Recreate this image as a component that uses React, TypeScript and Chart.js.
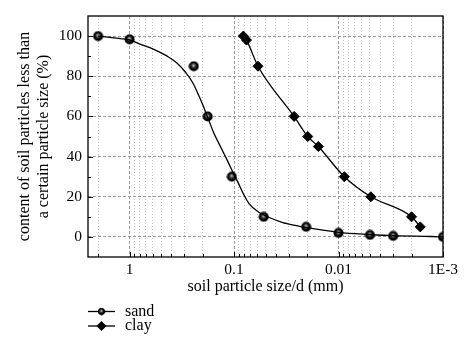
import React, { useEffect, useRef } from 'react';
import { Chart, registerables } from 'chart.js';
Chart.register(...registerables);

// ---- data ----
const sandSize = [2, 1, 0.243, 0.179, 0.105, 0.052, 0.0204, 0.01, 0.005, 0.003, 0.001];
const sandContent = [100, 98.4, 85, 60, 30, 10, 5, 2, 1, 0.5, 0];

const sandFitSize = [2, 1.22, 1, 0.785, 0.586, 0.436, 0.35, 0.292, 0.25, 0.218, 0.188, 0.157, 0.135, 0.117, 0.101, 0.09, 0.0815, 0.0716, 0.058, 0.0467, 0.0347, 0.0259, 0.0201, 0.01, 0.005, 0.003, 0.0013, 0.001];
const sandFitContent = [100, 98.7, 98.1, 95.9, 93.4, 90, 86.5, 82, 77, 70.5, 62.5, 52, 45, 38.5, 31.5, 26.3, 21.5, 16.5, 12.3, 9.8, 7.3, 5.7, 4.6, 2.3, 1.2, 0.6, 0.2, 0];

const claySize = [0.0815, 0.076, 0.059, 0.0266, 0.0197, 0.0156, 0.0088, 0.0049, 0.002, 0.00165];
const clayContent = [100, 98, 85, 60, 50, 45, 30, 20, 10, 5];

const xMajorTicks = [1, 0.1, 0.01, 0.001];
const xTickLabels = ['1', '0.1', '0.01', '1E-3'];
const xMinorMultipliers = [2, 3, 4, 5, 6, 7, 8, 9];
const yTicks = [0, 20, 40, 60, 80, 100];
const yMinorTicks = [10, 30, 50, 70, 90];

const seriesNames = ['sand', 'clay'];
const xTitle = 'soil particle size/d (mm)';
const yTitle = ['content of soil particles less than', 'a certain particle size (%)'];

const FONT = "'Liberation Serif', 'DejaVu Serif', serif";

const isMajor = (v: number) => xMajorTicks.some((m) => Math.abs(v - m) / m < 1e-6);

function allXTicks(): number[] {
  const out: number[] = [];
  xMajorTicks.forEach((m) => {
    out.push(m);
    xMinorMultipliers.forEach((k) => {
      const v = m * k;
      if (v <= 2.5 && !isMajor(v)) out.push(v);
    });
  });
  return out;
}

function makeSandMarker(): HTMLCanvasElement {
  const c = document.createElement('canvas');
  c.width = 11;
  c.height = 11;
  const g = c.getContext('2d')!;
  const grad = g.createRadialGradient(5.2, 4.6, 0.3, 5.5, 5.5, 5.5);
  grad.addColorStop(0, '#bdbdbd');
  grad.addColorStop(0.3, '#444');
  grad.addColorStop(0.6, '#000');
  grad.addColorStop(1, '#000');
  g.beginPath();
  g.arc(5.5, 5.5, 5, 0, Math.PI * 2);
  g.fillStyle = grad;
  g.fill();
  return c;
}

export default function App() {
  const ref = useRef<HTMLCanvasElement>(null);

  useEffect(() => {
    const sandMarker = makeSandMarker();

    const framePlugin = {
      id: 'frameAndLegend',
      afterDraw(chart: any) {
        const { ctx, chartArea } = chart;
        const xs = chart.scales.x;
        const ys = chart.scales.y;
        ctx.save();
        ctx.strokeStyle = '#000';
        ctx.lineWidth = 1.3;
        ctx.strokeRect(chartArea.left, chartArea.top, chartArea.right - chartArea.left, chartArea.bottom - chartArea.top);
        ctx.lineWidth = 1;
        ctx.beginPath();
        allXTicks().forEach((v) => {
          const px = Math.round(xs.getPixelForValue(v)) + 0.5;
          const len = isMajor(v) ? 5 : 3;
          ctx.moveTo(px, chartArea.bottom);
          ctx.lineTo(px, chartArea.bottom - len);
        });
        yTicks.forEach((v) => {
          const py = Math.round(ys.getPixelForValue(v)) + 0.5;
          ctx.moveTo(chartArea.left, py);
          ctx.lineTo(chartArea.left + 5, py);
        });
        yMinorTicks.forEach((v) => {
          const py = Math.round(ys.getPixelForValue(v)) + 0.5;
          ctx.moveTo(chartArea.left, py);
          ctx.lineTo(chartArea.left + 3, py);
        });
        ctx.stroke();

        const lx = 88;
        const rows = [311.5, 326];
        ctx.font = `16px ${FONT}`;
        ctx.textBaseline = 'middle';
        ctx.fillStyle = '#000';
        rows.forEach((ly, i) => {
          ctx.beginPath();
          ctx.lineWidth = 1.3;
          ctx.moveTo(lx, ly);
          ctx.lineTo(lx + 27, ly);
          ctx.stroke();
          const cx = lx + 13.5;
          if (i === 0) {
            ctx.drawImage(sandMarker, cx - 4, ly - 4, 8, 8);
          } else {
            ctx.beginPath();
            ctx.moveTo(cx, ly - 5);
            ctx.lineTo(cx + 5, ly);
            ctx.lineTo(cx, ly + 5);
            ctx.lineTo(cx - 5, ly);
            ctx.closePath();
            ctx.fill();
          }
          ctx.fillText(seriesNames[i], lx + 37, ly);
        });
        ctx.restore();
      },
    };

    const chart = new Chart(ref.current!, {
      type: 'line',
      data: {
        datasets: [
          {
            label: 'sand fit',
            data: sandFitSize.map((x, i) => ({ x, y: sandFitContent[i] })),
            borderColor: '#000',
            borderWidth: 1.3,
            pointRadius: 0,
            cubicInterpolationMode: 'monotone',
            fill: false,
          },
          {
            label: 'clay fit',
            data: claySize.map((x, i) => ({ x, y: clayContent[i] })),
            borderColor: '#000',
            borderWidth: 1.3,
            pointRadius: 0,
            cubicInterpolationMode: 'monotone',
            fill: false,
          },
          {
            label: seriesNames[0],
            data: sandSize.map((x, i) => ({ x, y: sandContent[i] })),
            showLine: false,
            pointStyle: sandMarker as any,
            pointRadius: 5,
          },
          {
            label: seriesNames[1],
            data: claySize.map((x, i) => ({ x, y: clayContent[i] })),
            showLine: false,
            pointStyle: 'rectRot',
            pointRadius: 5,
            backgroundColor: '#000',
            borderColor: '#000',
            borderWidth: 1,
          },
        ],
      },
      options: {
        animation: false,
        responsive: false,
        maintainAspectRatio: false,
        layout: { padding: { left: 0, top: 16, right: 31, bottom: 50 } },
        plugins: { legend: { display: false }, tooltip: { enabled: false } },
        scales: {
          x: {
            type: 'logarithmic',
            reverse: true,
            min: 0.001,
            max: 2.5,
            afterBuildTicks: (s: any) => {
              s.ticks = allXTicks().map((v) => ({ value: v, major: isMajor(v) }));
            },
            afterFit: (s: any) => {
              s.height = 44;
            },
            ticks: {
              autoSkip: false,
              maxRotation: 0,
              padding: 4,
              color: '#000',
              font: { family: FONT, size: 15.5 },
              callback: (v: any) => {
                const idx = xMajorTicks.findIndex((m) => Math.abs(Number(v) - m) / m < 1e-6);
                return idx >= 0 ? xTickLabels[idx] : '';
              },
            },
            grid: {
              drawTicks: false,
              lineWidth: 1,
              color: (c: any) => (c.tick && isMajor(c.tick.value) ? '#9a9a9a' : '#c4c4c4'),
            },
            border: {
              display: false,
              dash: (c: any) => (c.tick && isMajor(c.tick.value) ? [3, 2] : [1, 2]),
            },
            title: {
              display: true,
              text: xTitle,
              color: '#000',
              font: { family: FONT, size: 16 },
              padding: { top: 0, bottom: 5 },
            },
          },
          y: {
            type: 'linear',
            min: -10,
            max: 110,
            afterBuildTicks: (s: any) => {
              s.ticks = yTicks.map((v) => ({ value: v }));
            },
            afterFit: (s: any) => {
              s.width = 88;
            },
            ticks: {
              padding: 6,
              color: '#000',
              font: { family: FONT, size: 15.5 },
            },
            grid: { drawTicks: false, color: '#9a9a9a', lineWidth: 1 },
            border: { display: false, dash: [3, 2] },
            title: {
              display: true,
              text: yTitle,
              color: '#000',
              font: { family: FONT, size: 16, lineHeight: 1.15 },
              padding: { top: 16, bottom: 0 },
            },
          },
        },
      },
      plugins: [framePlugin],
    } as any);

    return () => chart.destroy();
  }, []);

  return (
    <div style={{ position: 'absolute', left: 0, top: 0, width: 474, height: 351, background: '#fff' }}>
      <canvas ref={ref} width={474} height={351} style={{ width: 474, height: 351, display: 'block' }} />
    </div>
  );
}
